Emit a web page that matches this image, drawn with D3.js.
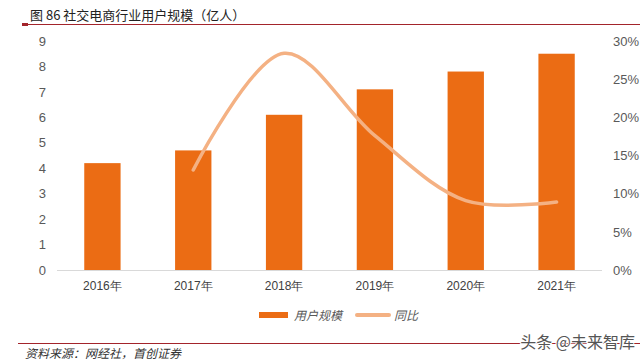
<!DOCTYPE html>
<html>
<head>
<meta charset="utf-8">
<script src="https://cdn.jsdelivr.net/npm/d3@7"></script>
<style>
  body { margin: 0; background: #fff; }
  svg { display: block; font-family: "Noto Sans CJK SC", "Noto Sans", sans-serif; }
</style>
</head>
<body>
<svg id="chart"></svg>
<script>
const years = ['2016年', '2017年', '2018年', '2019年', '2020年', '2021年'];
const users = [4.2, 4.7, 6.1, 7.1, 7.8, 8.5];
const growth = [null, 0.131, 0.284, 0.176, 0.091, 0.089];
const leftTicks = [0, 1, 2, 3, 4, 5, 6, 7, 8, 9];
const rightTicks = [0, 0.05, 0.10, 0.15, 0.20, 0.25, 0.30];

const width = 640;
const height = 363;
const margin = { top: 41, right: 38, bottom: 93, left: 57 };

const svg = d3.select('#chart')
    .attr('width', width)
    .attr('height', height);

// title + red rule
svg.append('text')
    .attr('x', 30).attr('y', 20)
    .attr('font-size', 13).attr('fill', '#222')
    .text('图 86 社交电商行业用户规模（亿人）');
svg.append('line')
    .attr('x1', 22).attr('x2', 640).attr('y1', 24.5).attr('y2', 24.5)
    .attr('stroke', '#a3242b').attr('stroke-width', 1);
svg.append('rect')
    .attr('x', 22).attr('y', 23).attr('width', 6).attr('height', 3)
    .attr('fill', '#a3242b');

const x = d3.scaleBand()
    .domain(years)
    .range([margin.left, width - margin.right])
    .paddingInner(0.6)
    .paddingOuter(0.3);

const y = d3.scaleLinear()
    .domain([0, 9])
    .range([height - margin.bottom, margin.top]);

const y2 = d3.scaleLinear()
    .domain([0, 0.3])
    .range([height - margin.bottom, margin.top]);

// bars
svg.append('g')
    .selectAll('rect')
    .data(users)
    .join('rect')
    .attr('x', (d, i) => x(years[i]))
    .attr('y', d => y(d))
    .attr('width', x.bandwidth())
    .attr('height', d => y(0) - y(d))
    .attr('fill', '#eb6c14');

// baseline
svg.append('line')
    .attr('x1', margin.left).attr('x2', width - margin.right)
    .attr('y1', y(0) + 0.5).attr('y2', y(0) + 0.5)
    .attr('stroke', '#d9d9d9').attr('stroke-width', 1);

// growth line
const pts = growth.map((g, i) => [x(years[i]) + x.bandwidth() / 2, g]).filter(p => p[1] != null);
svg.append('path')
    .datum(pts)
    .attr('fill', 'none')
    .attr('stroke', '#f4b183')
    .attr('stroke-width', 3.5)
    .attr('stroke-linecap', 'round')
    .attr('d', d3.line()
        .x(d => d[0])
        .y(d => y2(d[1]))
        .curve(d3.curveCatmullRom.alpha(0.5)));

// left axis
const leftAxis = svg.append('g')
    .attr('transform', `translate(${margin.left - 11},0)`)
    .call(d3.axisLeft(y).tickValues(leftTicks).tickSize(0).tickPadding(0).tickFormat(d3.format('d')));
leftAxis.select('.domain').remove();
leftAxis.selectAll('text').attr('font-size', 13).attr('fill', '#595959')
    .attr('font-family', 'Liberation Sans, Arial, sans-serif');

// right axis
const rightAxis = svg.append('g')
    .attr('transform', `translate(${width - margin.right + 11},0)`)
    .call(d3.axisRight(y2).tickValues(rightTicks).tickSize(0).tickPadding(0).tickFormat(d3.format('.0%')));
rightAxis.select('.domain').remove();
rightAxis.selectAll('text').attr('font-size', 13).attr('fill', '#595959')
    .attr('font-family', 'Liberation Sans, Arial, sans-serif');

// x axis labels
const xAxis = svg.append('g')
    .attr('transform', `translate(0,${y(0) + 11})`)
    .call(d3.axisBottom(x).tickSize(0).tickPadding(0));
xAxis.select('.domain').remove();
xAxis.selectAll('text').attr('font-size', 12).attr('fill', '#404040').attr('dy', '0.71em');

// legend
const lg = svg.append('g').attr('transform', 'translate(259,315)');
lg.append('rect').attr('x', 0).attr('y', -3).attr('width', 29).attr('height', 6).attr('fill', '#eb6c14');
lg.append('text').attr('x', 35).attr('y', 4.5).attr('font-size', 12).attr('fill', '#595959')
    .attr('font-style', 'italic').text('用户规模');
lg.append('line').attr('x1', 98).attr('x2', 130).attr('y1', 0).attr('y2', 0)
    .attr('stroke', '#f4b183').attr('stroke-width', 4).attr('stroke-linecap', 'round');
lg.append('text').attr('x', 135).attr('y', 4.5).attr('font-size', 12).attr('fill', '#595959')
    .attr('font-style', 'italic').text('同比');

// footer
svg.append('line')
    .attr('x1', 18).attr('x2', 640).attr('y1', 343.5).attr('y2', 343.5)
    .attr('stroke', '#a3242b').attr('stroke-width', 1);
svg.append('text')
    .attr('x', 25).attr('y', 358)
    .attr('font-size', 12).attr('fill', '#333').attr('font-style', 'italic')
    .text('资料来源：网经社，首创证券');
svg.append('text')
    .attr('x', 635).attr('y', 348)
    .attr('text-anchor', 'end')
    .attr('font-size', 16).attr('fill', '#555')
    .attr('stroke', '#fff').attr('stroke-width', 2).attr('paint-order', 'stroke')
    .text('头条 @未来智库');
</script>
</body>
</html>
